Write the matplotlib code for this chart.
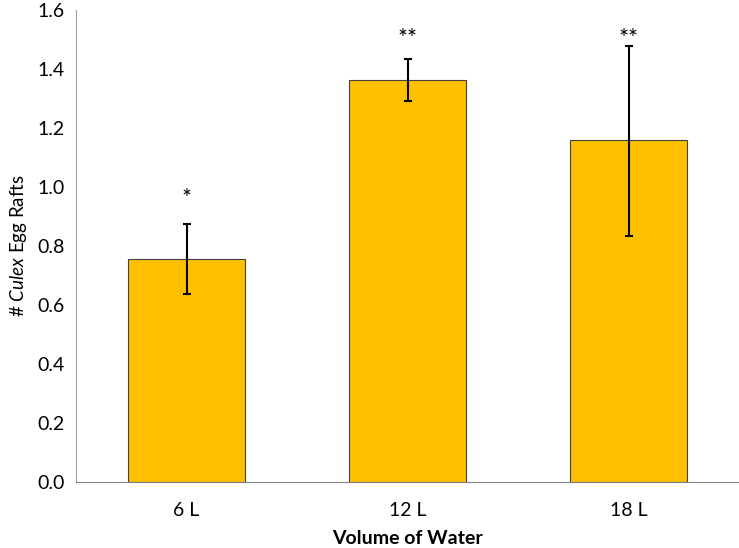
import matplotlib.pyplot as plt

plt.rcParams['font.family'] = ['Lato', 'DejaVu Sans']
plt.rcParams['mathtext.fontset'] = 'custom'
plt.rcParams['mathtext.it'] = 'Lato:italic'
plt.rcParams['mathtext.rm'] = 'Lato'

volumes = ["6 L", "12 L", "18 L"]
rafts = [0.756, 1.362, 1.158]
err_low = [0.118, 0.070, 0.323]
err_high = [0.119, 0.072, 0.318]
stars = ["*", "**", "**"]
star_y = [0.962, 1.502, 1.502]


def main():
    fig = plt.figure(figsize=(7.39, 5.48), dpi=100)
    ax = fig.add_axes([0.103, 0.12, 0.897, 0.862])

    x = range(len(volumes))
    ax.bar(x, rafts, width=0.53, color="#FFC000", edgecolor="#404040", linewidth=0.8,
           yerr=[err_low, err_high], error_kw=dict(ecolor="black", elinewidth=1.5, capsize=3, capthick=1.5))

    for i in x:
        ax.text(i, star_y[i], stars[i], ha="center", va="center", fontsize=17)

    ax.set_xlim(-0.5, 2.5)
    ax.set_ylim(0, 1.6)
    ax.set_yticks([0.0, 0.2, 0.4, 0.6, 0.8, 1.0, 1.2, 1.4, 1.6])
    ax.set_yticklabels(["%.1f" % v for v in ax.get_yticks()])
    ax.set_xticks(list(x))
    ax.set_xticklabels(volumes)
    ax.tick_params(length=0, labelsize=14, pad=8)
    ax.tick_params(axis="x", pad=14)

    for s in ["top", "right"]:
        ax.spines[s].set_visible(False)
    ax.spines["left"].set_color("#a0a0a0")
    ax.spines["bottom"].set_color("#808080")

    ax.set_ylabel(r"# $\it{Culex}$ Egg Rafts", fontsize=13.5, labelpad=6)
    ax.set_xlabel("Volume of Water", fontsize=14, fontweight="bold", labelpad=8)

    fig.savefig("out.png", dpi=100)


if __name__ == "__main__":
    main()
